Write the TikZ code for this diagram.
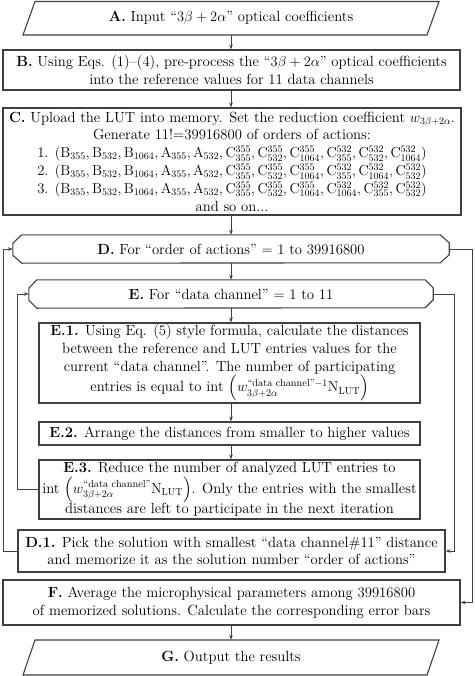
\documentclass[tikz,border=0pt]{standalone}
\usepackage{amsmath}
\usetikzlibrary{arrows.meta,calc}
\definecolor{linec}{HTML}{404040}
\tikzset{
  box/.style={draw=linec, line width=1.1pt},
  txt/.style={inner sep=0pt, align=center, font=\fontsize{14.7}{17.8}\selectfont},
  arr/.style={draw=linec, line width=0.8pt, -{Stealth[length=5pt,width=3.5pt]}},
}
\newcommand{\Rm}[1]{\mathrm{#1}}
\begin{document}
\begin{tikzpicture}[x=1pt,y=-1pt]
\useasboundingbox (0,0) rectangle (474,676);
% A
\node[txt, minimum width=404pt, minimum height=34pt] (A) at (231,18) {\textbf{A.} Input ``$3\beta+2\alpha$'' optical coefficients};
\draw[box] (35,1.5) -- (439,1.5) -- (427,35) -- (23,35) -- cycle;
% B
\node[txt, box, minimum width=457pt, minimum height=40pt] (B) at (231.5,70) {\textbf{B.} Using Eqs. (1)--(4), pre-process the ``$3\beta+2\alpha$'' optical coefficients\\ into the reference values for 11 data channels};
% C
\node[txt, box, minimum width=458pt, minimum height=107pt] (C) at (232,161.5) {\textbf{C.} Upload the LUT into memory. Set the reduction coefficient $w_{3\beta+2\alpha}$.\\
Generate 11!=39916800 of orders of actions:\\
1. $(\Rm{B}_{355},\Rm{B}_{532},\Rm{B}_{1064},\Rm{A}_{355},\Rm{A}_{532},\Rm{C}^{355}_{355},\Rm{C}^{355}_{532},\Rm{C}^{355}_{1064},\Rm{C}^{532}_{355},\Rm{C}^{532}_{532},\Rm{C}^{532}_{1064})$\\
2. $(\Rm{B}_{355},\Rm{B}_{532},\Rm{B}_{1064},\Rm{A}_{355},\Rm{A}_{532},\Rm{C}^{355}_{355},\Rm{C}^{355}_{532},\Rm{C}^{355}_{1064},\Rm{C}^{532}_{355},\Rm{C}^{532}_{1064},\Rm{C}^{532}_{532})$\\
3. $(\Rm{B}_{355},\Rm{B}_{532},\Rm{B}_{1064},\Rm{A}_{355},\Rm{A}_{532},\Rm{C}^{355}_{355},\Rm{C}^{355}_{532},\Rm{C}^{355}_{1064},\Rm{C}^{532}_{1064},\Rm{C}^{532}_{355},\Rm{C}^{532}_{532})$\\
and so on...};
% D
\node[txt, minimum width=436pt, minimum height=28pt] (D) at (231,249) {\textbf{D.} For ``order of actions'' $=$ 1 to 39916800};
\draw[box] ([xshift=9pt]D.north west) -- ([xshift=-9pt]D.north east) -- ++(9,8) -- ++(0,12) -- ++(-9,8) -- ([xshift=9pt]D.south west) -- ++(-9,-8) -- ++(0,-12) -- cycle;
% E
\node[txt, minimum width=404pt, minimum height=28pt] (E) at (231,294) {\textbf{E.} For ``data channel'' $=$ 1 to 11};
\draw[box] ([xshift=8pt]E.north west) -- ([xshift=-8pt]E.north east) -- ++(8,8) -- ++(0,12) -- ++(-8,8) -- ([xshift=8pt]E.south west) -- ++(-8,-8) -- ++(0,-12) -- cycle;
% E.1
\node[txt, box, minimum width=381pt, minimum height=80pt] (E1) at (229.5,363) {\textbf{E.1.} Using Eq. (5) style formula, calculate the distances\\ between the reference and LUT entries values for the\\ current ``data channel''. The number of participating\\ entries is equal to int $\left(w_{3\beta+2\alpha}^{\text{``data channel''}-1}\Rm{N}_{\Rm{LUT}}\right)$};
% E.2
\node[txt, box, minimum width=381pt, minimum height=23pt] (E2) at (229.5,433.5) {\textbf{E.2.} Arrange the distances from smaller to higher values};
% E.3
\node[txt, box, minimum width=381pt, minimum height=59pt] (E3) at (229.5,489.5) {\textbf{E.3.} Reduce the number of analyzed LUT entries to\\ int $\left(w_{3\beta+2\alpha}^{\text{``data channel''}}\Rm{N}_{\Rm{LUT}}\right)$. Only the entries with the smallest\\ distances are left to participate in the next iteration};
% D.1
\node[txt, box, minimum width=427pt, minimum height=42pt] (D1) at (231.5,551) {\textbf{D.1.} Pick the solution with smallest ``data channel\#11'' distance\\ and memorize it as the solution number ``order of actions''};
% F
\node[txt, box, minimum width=457pt, minimum height=45pt] (F) at (231.5,602.5) {\textbf{F.} Average the microphysical parameters among 39916800\\ of memorized solutions. Calculate the corresponding error bars};
% G
\node[txt, minimum width=404pt, minimum height=35pt] (G) at (231,657.5) {\textbf{G.} Output the results};
\draw[box] (35,640) -- (439,640) -- (427,675) -- (23,675) -- cycle;
% straight arrows
\draw[arr] (A.south) -- (A.south |- B.north);
\draw[arr] (A.south |- B.south) -- (A.south |- C.north);
\draw[arr] (A.south |- C.south) -- (D.north);
\draw[arr] (D.south) -- (E.north);
\draw[arr] (E.south) -- (E.south |- E1.north);
\draw[arr] (E.south |- E1.south) -- (E.south |- E2.north);
\draw[arr] (E.south |- E2.south) -- (E.south |- E3.north);
\draw[arr] (A.south |- F.south) -- (G.north);
% loops
\coordinate (dr) at (472,249);
\coordinate (dl) at (3,551);
\coordinate (er) at (454,294);
\coordinate (el) at (17,489.5);
\draw[arr] (D.east) -- (dr) |- (F.east);
\draw[arr] (D1.west) -- (dl) |- (D.west);
\draw[arr] (E.east) -- (er) |- (D1.east);
\draw[arr] (E3.west) -- (el) |- (E.west);
\end{tikzpicture}
\end{document}
